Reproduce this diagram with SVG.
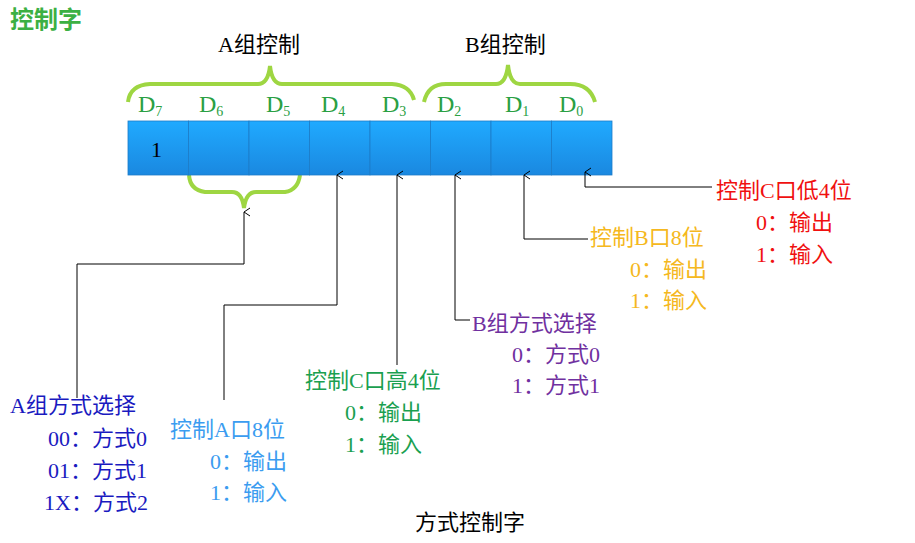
<svg xmlns="http://www.w3.org/2000/svg" width="915" height="543" viewBox="0 0 915 543">
<defs>
<linearGradient id="g" x1="0" y1="0" x2="0" y2="1"><stop offset="0" stop-color="#20aaff"/><stop offset="1" stop-color="#1a88e0"/></linearGradient>
<marker id="ar" markerWidth="10" markerHeight="10" refX="5" refY="1" orient="auto" markerUnits="userSpaceOnUse"><path d="M1,7 L5,1 L9,7" fill="none" stroke="#000" stroke-width="1"/></marker>
<style>
text{font-family:"Liberation Serif","Noto Sans CJK SC",serif;font-size:22px}
.d{fill:#2aa043;font-size:24px}
.s{font-size:14px}
.c{stroke:#000;stroke-width:1;fill:none}
.b{stroke:#9ed642;stroke-width:4;fill:none}
.cell{fill:url(#g);stroke:#1c7cc8;stroke-width:0.8}
</style>
</defs>
<text x="10" y="28" style="font-family:'Noto Sans CJK SC',sans-serif;font-weight:bold;font-size:24px;fill:#3cb043">控制字</text>
<g id="braces">
<text x="218" y="52" fill="#000">A组控制</text>
<text x="465" y="52" fill="#000">B组控制</text>
<path class="b" d="M128,102 Q130,85 150,84 L258,84 Q268,84 270,66 Q272,84 282,84 L392,84 Q410,85 414,100"/>
<path class="b" d="M424,102 Q428,84 446,84 L496,84 Q506,84 508,65 Q510,84 520,84 L570,84 Q590,84 595,102"/>
<path class="b" d="M189,175 Q190,190 205,192 L232,192 Q242,192 244,208 Q246,192 256,192 L285,192 Q298,190 300,175"/>
</g>
<g id="register">
<rect class="cell" x="128" y="121" width="60.5" height="54"/>
<rect class="cell" x="188.5" y="121" width="60.5" height="54"/>
<rect class="cell" x="249" y="121" width="60.5" height="54"/>
<rect class="cell" x="309.5" y="121" width="60.5" height="54"/>
<rect class="cell" x="370" y="121" width="60.5" height="54"/>
<rect class="cell" x="430.5" y="121" width="60.5" height="54"/>
<rect class="cell" x="491" y="121" width="60.5" height="54"/>
<rect class="cell" x="551.5" y="121" width="60.5" height="54"/>
<text x="151" y="157" fill="#000">1</text>
<text class="d" x="138" y="112">D<tspan class="s" dy="4">7</tspan></text>
<text class="d" x="199" y="112">D<tspan class="s" dy="4">6</tspan></text>
<text class="d" x="266" y="112">D<tspan class="s" dy="4">5</tspan></text>
<text class="d" x="321" y="112">D<tspan class="s" dy="4">4</tspan></text>
<text class="d" x="382" y="112">D<tspan class="s" dy="4">3</tspan></text>
<text class="d" x="437" y="112">D<tspan class="s" dy="4">2</tspan></text>
<text class="d" x="505" y="112">D<tspan class="s" dy="4">1</tspan></text>
<text class="d" x="559" y="112">D<tspan class="s" dy="4">0</tspan></text>
</g>
<g id="connectors">
<polyline class="c" points="77,398 77,264 244,264 244,212" marker-end="url(#ar)"/>
<polyline class="c" points="224,400 224,305 337,305 337,175" marker-end="url(#ar)"/>
<polyline class="c" points="397,365 397,175" marker-end="url(#ar)"/>
<polyline class="c" points="470,320 455,320 455,175" marker-end="url(#ar)"/>
<polyline class="c" points="588,239 524,239 524,175" marker-end="url(#ar)"/>
<polyline class="c" points="712,187 585,187 585,172" marker-end="url(#ar)"/>
</g>
<g id="aMode" fill="#1a1ac0">
<text x="10" y="413">A组方式选择</text>
<text x="48" y="446">00：方式0</text>
<text x="48" y="478">01：方式1</text>
<text x="44" y="510">1X：方式2</text>
</g>
<g id="aPort" fill="#3b9cf0">
<text x="170" y="437">控制A口8位</text>
<text x="210" y="469">0：输出</text>
<text x="210" y="500">1：输入</text>
</g>
<g id="cHigh" fill="#1aa050">
<text x="305" y="388">控制C口高4位</text>
<text x="345" y="420">0：输出</text>
<text x="345" y="452">1：输入</text>
</g>
<g id="bMode" fill="#7030a0">
<text x="472" y="331">B组方式选择</text>
<text x="512" y="362">0：方式0</text>
<text x="512" y="393">1：方式1</text>
</g>
<g id="bPort" fill="#f5b820">
<text x="590" y="245">控制B口8位</text>
<text x="630" y="277">0：输出</text>
<text x="630" y="308">1：输入</text>
</g>
<g id="cLow" fill="#f01010">
<text x="716" y="198">控制C口低4位</text>
<text x="756" y="230">0：输出</text>
<text x="756" y="262">1：输入</text>
</g>
<text x="415" y="530" fill="#000">方式控制字</text>
</svg>
